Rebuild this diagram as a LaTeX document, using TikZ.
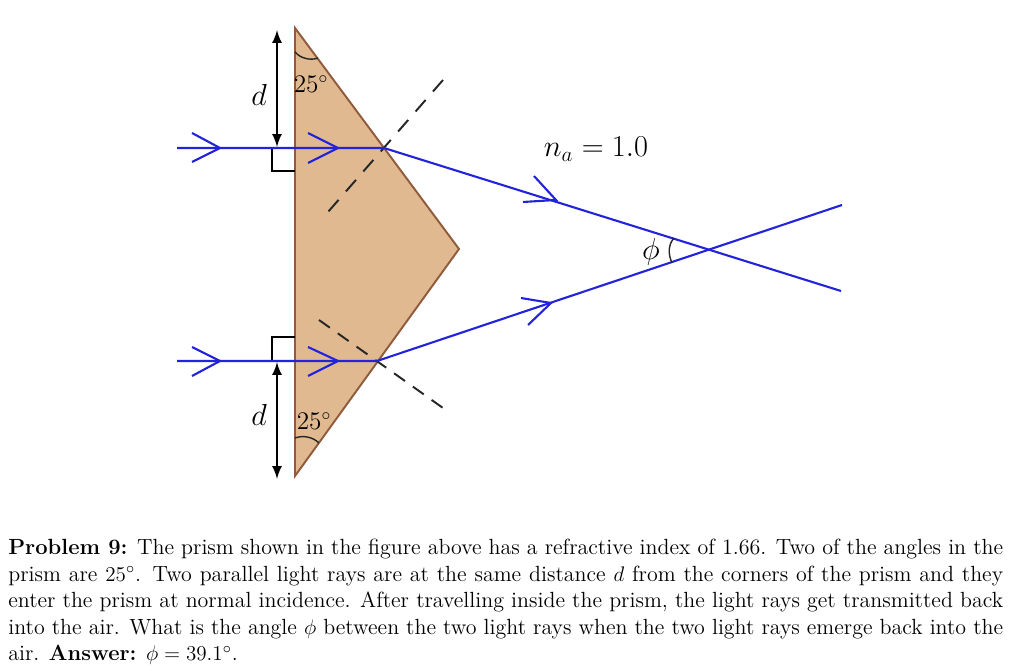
\documentclass[tikz,border=0pt]{standalone}
\usepackage{amsmath}
\usetikzlibrary{arrows,positioning,calc}
\definecolor{prismfill}{HTML}{E0B991}
\definecolor{prismedge}{HTML}{8F5B3A}
\definecolor{raycol}{HTML}{2323DC}
\tikzset{
	prism/.style={draw=prismedge,fill=prismfill,line width=1.1pt,line join=miter},
	ray/.style={draw=raycol,line width=1.2pt},
	chevron/.style={draw=raycol,line width=1.2pt,line join=miter},
	normalline/.style={draw=black!85,line width=1.1pt},
	dist/.style={draw=black,line width=1.5pt,latex-latex},
	rightbox/.style={draw=black,line width=1.1pt},
	anglearc/.style={draw=black!85,line width=0.8pt},
	figlabel/.style={inner sep=0pt,font=\fontsize{17}{20}\selectfont},
	anglabel/.style={inner sep=0pt,font=\fontsize{14}{16}\selectfont}
}
\begin{document}
\begin{tikzpicture}[x=0.02cm,y=-0.02cm]
	\useasboundingbox (0,0) rectangle (1024,671);
	%\draw (0,0) grid (1024,671);
	\coordinate (top) at (295,28);
	\coordinate (apex) at (459,249);
	\coordinate (bot) at (295,476);
	\coordinate (in1) at (177,148);
	\coordinate (in2) at (177,361);
	\coordinate (hit1) at (384,148);
	\coordinate (hit2) at (377,361);
	\coordinate (end1) at (841,291);
	\coordinate (end2) at (842,205);
	% prism
	\draw[prism] (top) -- (apex) -- (bot) -- cycle;
	% right angle marks
	\draw[rightbox] (272,148) -- (272,171) -- (295,171);
	\draw[rightbox] (272,361) -- (272,337) -- (295,337);
	% normals
	\draw[normalline,dash pattern=on 8.7pt off 6.38pt] (443,80) -- (328,212);
	\draw[normalline,dash pattern=on 7.6pt off 5.5pt] (319,320) -- (443,408);
	% rays
	\draw[ray] (in1) -- (hit1) -- (end1);
	\draw[ray] (in2) -- (hit2) -- (end2);
	\draw[chevron] (192,133) -- (220,148) -- (192,162);
	\draw[chevron] (308,133) -- (338,148) -- (308,163);
	\draw[chevron] (192,347) -- (220,361) -- (192,376);
	\draw[chevron] (308,347) -- (338,361) -- (308,376);
	\draw[chevron] (534,176) -- (556,200) -- (523,202);
	\draw[chevron] (521,298) -- (551,303) -- (528,325);
	% distances
	\draw[dist] (277,30) -- (277,147);
	\draw[dist] (277,362) -- (277,479);
	% angles
	\draw[anglearc] (295,52) .. controls (300,58) and (310,61) .. (318,58);
	\draw[anglearc] (295,438) .. controls (303,435) and (313,437) .. (319,443);
	\draw[anglearc] (674,238) .. controls (668,245) and (668,254) .. (672,263);
	% labels
	\node[figlabel] (dtop) at (259,95) {$d$};
	\node[figlabel] (dbot) at (259,415) {$d$};
	\node[anglabel] (angtop) at (311,84) {$25^{\circ}$};
	\node[anglabel] (angbot) at (314,421) {$25^{\circ}$};
	\node[figlabel] (index) at (596,149) {$n_a = 1.0$};
	\node[figlabel] (phi) at (651,252) {$\phi$};
	\node[anchor=north west,inner sep=0pt,text width=19.9cm,align=justify,font=\fontsize{12.5}{15.1}\selectfont] (problem) at (8,539) {\textbf{Problem 9:} The prism shown in the figure above has a refractive index of 1.66. Two of the angles in the\linebreak
	prism are $25^{\circ}$. Two parallel light rays are at the same distance $d$ from the corners of the prism and they\linebreak
	enter the prism at normal incidence. After travelling inside the prism, the light rays get transmitted back\linebreak
	into the air. What is the angle $\phi$ between the two light rays when the two light rays emerge back into the\linebreak
	air. \textbf{Answer:} $\phi = 39.1^{\circ}$.};
\end{tikzpicture}
\end{document}
